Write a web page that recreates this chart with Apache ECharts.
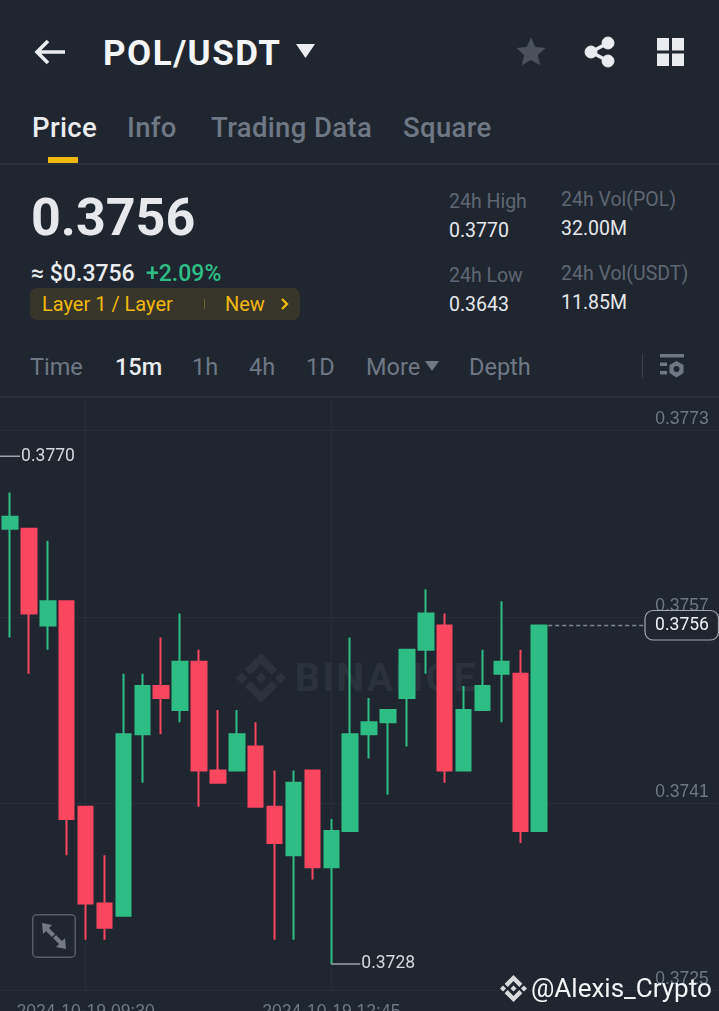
<!DOCTYPE html>
<html>
<head>
<meta charset="utf-8">
<title>POL/USDT</title>
<script src="https://cdn.jsdelivr.net/npm/echarts@6/dist/echarts.min.js"></script>
<style>
  html, body { margin: 0; padding: 0; width: 719px; height: 1011px; overflow: hidden; background: #1f2630; }
  body { font-family: Roboto, sans-serif; color: #848e9c; position: relative; }
  .t { position: absolute; transform: translateY(-50%); white-space: nowrap; line-height: 1; }
  .tab { font-size: 27.5px; font-weight: 500; color: #6f7885; letter-spacing: .35px; }
  .lab { font-size: 19.5px; color: #5f6774; }
  .val { font-size: 19.5px; color: #e6e8ec; }
  .per { font-size: 23.5px; color: #6f7885; }
  .line { position: absolute; left: 0; width: 719px; height: 2px; background: #2a303a; }
  svg { position: absolute; }
  #chart { position: absolute; left: 0; top: 397px; width: 719px; height: 614px; }
</style>
</head>
<body>
<svg width="0" height="0"><defs>
  <symbol id="bnb" viewBox="0 0 32 32">
    <polygon points="16,12.4 19.6,16 16,19.6 12.4,16"/>
    <polygon points="3.6,12.4 7.2,16 3.6,19.6 0,16"/>
    <polygon points="28.4,12.4 32,16 28.4,19.6 24.8,16"/>
    <polygon points="16,0 26.5,10.5 22.9,14.1 16,7.2 9.1,14.1 5.5,10.5"/>
    <polygon points="16,32 26.5,21.5 22.9,17.9 16,24.8 9.1,17.9 5.5,21.5"/>
  </symbol>
</defs></svg>

<!-- header -->
<svg style="left:34px;top:38px" width="32" height="28" viewBox="0 0 32 28" fill="none" stroke="#eaecef" stroke-width="3.6"><path d="M31 14H4M14 3L3 14l11 11"/></svg>
<div class="t" style="left:103px;top:53px;font-size:35px;font-weight:700;color:#f4f5f6;letter-spacing:1.5px">POL/USDT</div>
<svg style="left:296px;top:44px" width="19" height="15"><polygon points="0,0 19,0 9.5,14" fill="#eaecef"/></svg>
<svg style="left:515px;top:36px" width="32" height="32" viewBox="0 0 24 24"><path d="M12 1l3.2 7.3 7.8.7-5.9 5.2 1.8 7.8L12 18l-6.900 4 1.800-7.800L1 9l7.800-.7z" fill="#4a515d"/></svg>
<svg style="left:584px;top:36px" width="31" height="32" viewBox="0 0 31 32" fill="#eaecef" stroke="#eaecef"><circle cx="24" cy="7" r="6"/><circle cx="7" cy="16" r="6"/><circle cx="24" cy="25" r="6"/><path d="M24 7L7 16l17 9" stroke-width="3.500" fill="none"/></svg>
<svg style="left:657px;top:38px" width="27" height="28" fill="#eaecef"><rect width="12" height="12.500"/><rect x="15" width="12" height="12.500"/><rect y="15.500" width="12" height="12.500"/><rect x="15" y="15.500" width="12" height="12.500"/></svg>

<!-- tabs -->
<div class="t tab" style="left:32px;top:128px;color:#eaecef">Price</div>
<div class="t tab" style="left:127px;top:128px">Info</div>
<div class="t tab" style="left:211px;top:128px">Trading Data</div>
<div class="t tab" style="left:403px;top:128px">Square</div>
<div style="position:absolute;left:48px;top:157px;width:30px;height:6px;background:#f0b90b"></div>
<div class="line" style="top:163px"></div>

<!-- price block -->
<div class="t" style="left:31px;top:218px;font-size:52px;font-weight:700;color:#e6e8ec">0.3756</div>
<div class="t" style="left:31px;top:273px;font-size:23px;font-weight:500;color:#eaecef">≈ $0.3756</div>
<div class="t" style="left:146px;top:273px;font-size:23px;font-weight:500;color:#2ebd85">+2.09%</div>
<div style="position:absolute;left:30px;top:288px;width:270px;height:32px;border-radius:7px;background:#38352a"></div>
<div class="t" style="left:42px;top:304px;font-size:20px;color:#f0b90b">Layer 1 / Layer</div>
<div style="position:absolute;left:204px;top:299px;width:1px;height:10px;background:#6d6335"></div>
<div class="t" style="left:225px;top:304px;font-size:20px;color:#f0b90b">New</div>
<svg style="left:280px;top:297px" width="9" height="14" fill="none" stroke="#f0b90b" stroke-width="2.400"><path d="M2 2l5 5-5 5"/></svg>

<div class="t lab" style="left:449px;top:202px">24h High</div>
<div class="t val" style="left:449px;top:231px">0.3770</div>
<div class="t lab" style="left:561px;top:200px">24h Vol(POL)</div>
<div class="t val" style="left:561px;top:229px">32.00M</div>
<div class="t lab" style="left:449px;top:276px">24h Low</div>
<div class="t val" style="left:449px;top:305px">0.3643</div>
<div class="t lab" style="left:561px;top:274px">24h Vol(USDT)</div>
<div class="t val" style="left:561px;top:303px">11.85M</div>

<!-- period row -->
<div class="t per" style="left:30px;top:368px">Time</div>
<div class="t per" style="left:115px;top:368px;color:#eaecef;font-weight:500">15m</div>
<div class="t per" style="left:192px;top:368px">1h</div>
<div class="t per" style="left:249px;top:368px">4h</div>
<div class="t per" style="left:306px;top:368px">1D</div>
<div class="t per" style="left:366px;top:368px">More</div>
<svg style="left:425px;top:361px" width="14" height="10"><polygon points="0,0 14,0 7,10" fill="#6f7885"/></svg>
<div class="t per" style="left:469px;top:368px">Depth</div>
<div style="position:absolute;left:642px;top:354px;width:1px;height:24px;background:#3a414c"></div>
<svg style="left:660px;top:354px" width="24" height="25" fill="#6f7885"><rect width="24" height="3.500"/><rect y="8.500" width="7" height="3.500"/><rect y="17" width="7" height="3.500"/><path d="M16.500 7l7 4v8l-7 4.500-7-4.500v-8z"/><circle cx="16.500" cy="15" r="3" fill="#1f2630"/></svg>
<div class="line" style="top:396px"></div>

<!-- chart watermark, sits under the canvas -->
<svg style="left:236px;top:653px" width="50" height="50" fill="#2c323d"><use href="#bnb"/></svg>
<div class="t" style="left:295px;top:678px;font-size:39px;font-weight:700;color:#2c323d;letter-spacing:2.500px">BINANCE</div>

<div id="chart"></div>

<!-- expand button -->
<svg style="left:32px;top:914px" width="44" height="44" fill="none"><rect x=".75" y=".75" width="42.500" height="42.500" rx="4" stroke="#565d68" stroke-width="1.500"/><g fill="#737a85"><polygon points="10,9 20,11 17,14 23,20 20,23 14,17 11,20"/><polygon points="34,35 24,33 27,30 21,24 24,21 30,27 33,24"/></g></svg>

<!-- post watermark -->
<svg style="left:500px;top:975px" width="27" height="27" fill="#d9dadc"><use href="#bnb"/></svg>
<div class="t" style="left:531px;top:988px;font-size:26px;color:#f4f5f6">@Alexis_Crypto</div>

<script>
// 15m candles, first one sits just off the left edge (only its high label shows)
const times = ['08:15','08:30','08:45','09:00','09:15','09:30','09:45','10:00','10:15','10:30',
  '10:45','11:00','11:15','11:30','11:45','12:00','12:15','12:30','12:45','13:00',
  '13:15','13:30','13:45','14:00','14:15','14:30','14:45','15:00','15:15','15:30',
  '15:45','16:00','16:15','16:30','16:45','17:00','17:15','17:30','17:45'];
const labelledTimes = ['09:30', '12:45'];

const opens = [0.3768,0.3764,0.3764,0.3756,0.3758,0.3741,0.3733,0.3732,0.3747,0.3751,
  0.3749,0.3753,0.3744,0.3744,0.3746,0.3741,0.3737,0.3744,0.3736,0.3739,
  0.3747,0.3748,0.3750,0.3754,0.3756,0.3744,0.3749,0.3752,0.3752,0.3739];
const closes = [0.3764,0.3765,0.3757,0.3758,0.3740,0.3733,0.3731,0.3747,0.3751,0.3750,
  0.3753,0.3744,0.3743,0.3747,0.3741,0.3738,0.3743,0.3736,0.3739,0.3747,
  0.3748,0.3749,0.3754,0.3757,0.3744,0.3749,0.3751,0.3753,0.3739,0.3756];
const lows = [0.3764,0.3755,0.3752,0.3754,0.3737,0.3730,0.3730,0.3732,0.3743,0.3747,
  0.3748,0.3741,0.3743,0.3744,0.3741,0.3730,0.3730,0.3735,0.3728,0.3739,
  0.3745,0.3742,0.3746,0.3752,0.3743,0.3744,0.3749,0.3748,0.3738,0.3739];
const highs = [0.3770,0.3767,0.3764,0.3763,0.3758,0.3741,0.3737,0.3752,0.3752,0.3755,
  0.3757,0.3754,0.3749,0.3749,0.3748,0.3744,0.3744,0.3744,0.3740,0.3755,
  0.3750,0.3749,0.3754,0.3759,0.3757,0.3751,0.3754,0.3758,0.3754,0.3756];

const tickPrices = [0.372585, 0.374132, 0.37567, 0.377217];
const tickLabels = ['0.3725', '0.3741', '0.3757', '0.3773'];

const extremeTimes = ['08:15', '12:45'];
const extremePrices = [0.3770, 0.3728];
const lastPrice = 0.3756;

const upColor = '#2ebd85';
const downColor = '#fb4660';
const gridColor = '#282e39';
const labelFont = '17.5px Roboto, sans-serif';

const candles = opens.map((o, i) => [o, closes[i], lows[i], highs[i]]);
const categories = times.map(t => '2024-10-19 ' + t);
const showTime = (i) => labelledTimes.indexOf(times[i]) >= 0;

const chart = echarts.init(document.getElementById('chart'));
chart.setOption({
  animation: false,
  backgroundColor: 'transparent',
  grid: { left: -18.35, width: 737.1, top: 0, height: 593, outerBoundsMode: 'none' },
  xAxis: {
    type: 'category',
    data: categories,
    axisLine: { show: false },
    axisTick: { show: false },
    axisLabel: {
      interval: (i) => showTime(i),
      color: '#6f7885',
      fontSize: 17.5,
      margin: 13,
      hideOverlap: false
    },
    splitLine: {
      show: true,
      alignWithLabel: true,
      interval: (i) => showTime(i),
      lineStyle: { color: gridColor, width: 1 }
    }
  },
  yAxis: {
    type: 'value',
    position: 'right',
    min: 0.372585,
    max: 0.37749,
    axisLine: { show: false },
    axisTick: { show: false, customValues: tickPrices },
    axisLabel: {
      customValues: tickPrices,
      inside: true,
      margin: 10,
      color: '#6f7885',
      fontSize: 17.5,
      verticalAlign: 'bottom',
      padding: [0, 0, 2, 0],
      formatter: (v) => tickLabels[tickPrices.indexOf(v)]
    },
    splitLine: { show: true, lineStyle: { color: gridColor, width: 1 } }
  },
  series: [
    {
      type: 'candlestick',
      data: candles,
      barWidth: 15,
      itemStyle: {
        color: upColor,
        color0: downColor,
        borderColor: upColor,
        borderColor0: downColor,
        borderWidth: 2
      }
    },
    {
      // high / low tags
      type: 'custom',
      data: extremeTimes.map((t, i) => [times.indexOf(t), extremePrices[i]]),
      encode: { x: 0, y: 1 },
      clip: false,
      z: 5,
      renderItem: (params, api) => {
        const p = api.coord([api.value(0), api.value(1)]);
        return {
          type: 'group',
          children: [
            { type: 'line', shape: { x1: p[0], y1: p[1], x2: p[0] + 29, y2: p[1] },
              style: { stroke: '#9ea3ab', lineWidth: 1.5 } },
            { type: 'text', x: p[0] + 30, y: p[1],
              style: { text: api.value(1).toFixed(4), fill: '#d5d8dc', font: labelFont, verticalAlign: 'middle' } }
          ]
        };
      }
    },
    {
      // last price line and tag
      type: 'custom',
      data: [[times.length - 10, lastPrice]],
      encode: { x: 0, y: 1 },
      clip: false,
      z: 6,
      renderItem: (params, api) => {
        const p = api.coord([api.value(0), api.value(1)]);
        return {
          type: 'group',
          children: [
            { type: 'line', shape: { x1: p[0] + 9, y1: p[1], x2: 645, y2: p[1] },
              style: { stroke: '#7f8690', lineWidth: 1.5, lineDash: [4, 3] } },
            { type: 'rect', shape: { x: 645, y: p[1] - 15, width: 73.5, height: 29.5, r: 8 },
              style: { fill: '#1f2630', stroke: '#a3a7ae', lineWidth: 1.2 } },
            { type: 'text', x: 682, y: p[1],
              style: { text: api.value(1).toFixed(4), fill: '#f0f1f3', font: labelFont, align: 'center', verticalAlign: 'middle' } }
          ]
        };
      }
    }
  ]
});
</script>
</body>
</html>
